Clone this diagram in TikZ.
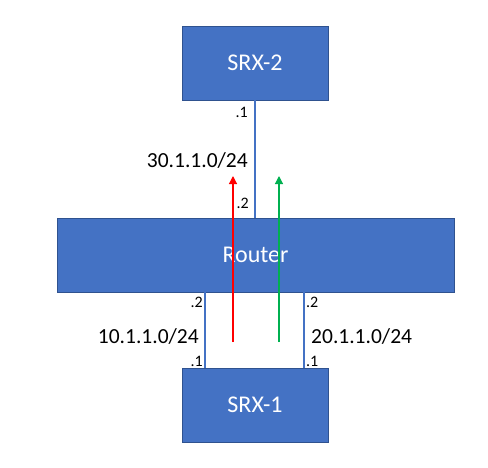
\documentclass[tikz,border=0pt]{standalone}
\usepackage{fontspec}
\setmainfont{Carlito}
\usetikzlibrary{arrows.meta,calc}
\definecolor{boxfill}{HTML}{4472C4}
\definecolor{boxline}{HTML}{2F528F}
\definecolor{arrred}{HTML}{FF0000}
\definecolor{arrgreen}{HTML}{00B050}
\tikzset{
  devbox/.style={draw=boxline, line width=0.8pt, fill=boxfill, text=white, minimum height=74pt, inner sep=0pt, font=\fontsize{24}{28}\selectfont},
  link/.style={draw=boxfill, line width=1.1pt},
  flow/.style={line width=1.2pt, -{Triangle[length=8pt,width=8pt]}},
  ip/.style={inner sep=0pt, font=\fontsize{16}{19}\selectfont},
  net/.style={inner sep=0pt, font=\fontsize{21.5}{25}\selectfont}
}
\begin{document}
\begin{tikzpicture}[x=1pt,y=-1pt]
\useasboundingbox (0,0) rectangle (488,467);
\node[devbox, minimum width=146pt] (srx2) at (255,63) {SRX-2};
\node[devbox, minimum width=397pt] (router) at (255.5,255) {Router};
\node[devbox, minimum width=146pt] (srx1) at (255,405) {SRX-1};
% links
\draw[link] (srx2.south) -- (srx2.south |- router.north);
\coordinate (l1) at ($(srx1.north)+(-50,0)$);
\coordinate (r1) at ($(srx1.north)+(49,0)$);
\draw[link] (l1) -- (l1 |- router.south);
\draw[link] (r1) -- (r1 |- router.south);
% flows
\coordinate (ra) at (233,342);
\coordinate (rb) at (233,176);
\coordinate (ga) at (279,342);
\coordinate (gb) at (279,176);
\draw[flow, draw=arrred, fill=arrred] (ra) -- (rb);
\draw[flow, draw=arrgreen, fill=arrgreen] (ga) -- (gb);
% labels
\node[ip, anchor=east] (t1) at (248,112) {.1};
\node[ip, anchor=east] (t2) at (249,203) {.2};
\node[ip, anchor=east] (bl2) at (203,302) {.2};
\node[ip, anchor=west] (br2) at (306,302) {.2};
\node[ip, anchor=east] (bl1) at (203,361) {.1};
\node[ip, anchor=west] (br1) at (306,361) {.1};
\node[net, anchor=east] (n30) at (248,160) {30.1.1.0/24};
\node[net, anchor=east] (n10) at (199,336) {10.1.1.0/24};
\node[net, anchor=west] (n20) at (311,336) {20.1.1.0/24};
\end{tikzpicture}
\end{document}
